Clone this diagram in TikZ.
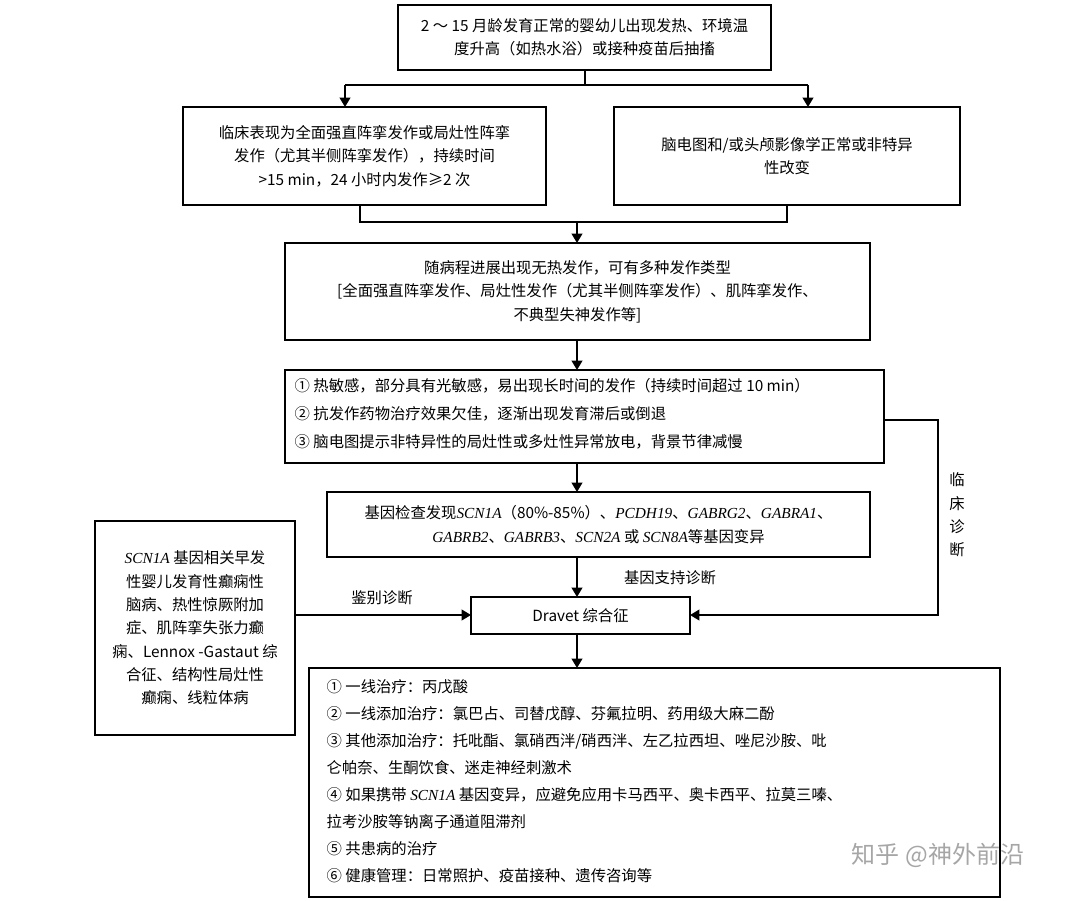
\documentclass[tikz,border=0pt]{standalone}
\usepackage{fontspec}
\setmainfont{Noto Sans CJK SC}
\newfontfamily\genefont{Liberation Serif}
\newcommand{\gene}[1]{{\genefont\itshape #1}}
\usetikzlibrary{arrows.meta}
\begin{document}
\begin{tikzpicture}[x=0.75pt,y=-0.75pt,
  box/.style={draw,line width=1.3pt},
  txt/.style={font=\fontsize{11.5}{17.5}\selectfont,align=center},
  ltxt/.style={font=\fontsize{11.5}{21}\selectfont,align=left,anchor=north west},
  arr/.style={line width=1.3pt,-{Triangle[length=7pt,width=8pt]}},
  ln/.style={line width=1.3pt}]
\useasboundingbox (0,0) rectangle (1080,900);
\draw[box] (398,5) rectangle (771,70) node[txt,midway] (n1) {2 ～ 15 月龄发育正常的婴幼儿出现发热、环境温\\度升高（如热水浴）或接种疫苗后抽搐};
\draw[box] (183,107) rectangle (546,205) node[txt,midway] (n2) {临床表现为全面强直阵挛发作或局灶性阵挛\\发作（尤其半侧阵挛发作），持续时间\\>15 min，24 小时内发作≥2 次};
\draw[box] (614,107) rectangle (960,205) node[txt,midway] (n3) {脑电图和/或头颅影像学正常或非特异\\性改变};
\draw[box] (285,243) rectangle (870,340) node[txt,midway] (n4) {随病程进展出现无热发作，可有多种发作类型\\{}[全面强直阵挛发作、局灶性发作（尤其半侧阵挛发作）、肌阵挛发作、\\不典型失神发作等]};
\draw[box] (285,370) rectangle (884,463);
\node[ltxt] (n5) at (290,374) {① 热敏感，部分具有光敏感，易出现长时间的发作（持续时间超过 10 min）\\② 抗发作药物治疗效果欠佳，逐渐出现发育滞后或倒退\\③ 脑电图提示非特异性的局灶性或多灶性异常放电，背景节律减慢};
\draw[box] (327,492) rectangle (870,557) node[txt,midway] (n6) {基因检查发现\gene{SCN1A}（80\%-85\%）、\gene{PCDH19}、\gene{GABRG2}、\gene{GABRA1}、\\\gene{GABRB2}、\gene{GABRB3}、\gene{SCN2A} 或 \gene{SCN8A}等基因变异};
\draw[box] (471,597) rectangle (690,634) node[txt,midway] (n7) {Dravet 综合征};
\draw[box] (95,521) rectangle (295,735) node[txt,midway] (n8) {\gene{SCN1A} 基因相关早发\\性婴儿发育性癫痫性\\脑病、热性惊厥附加\\症、肌阵挛失张力癫\\痫、Lennox -Gastaut 综\\合征、结构性局灶性\\癫痫、线粒体病};
\draw[box] (309,668) rectangle (1000,897);
\node[ltxt,font=\fontsize{11.5}{20.2}\selectfont] (n9) at (322,675) {① 一线治疗：丙戊酸\\② 一线添加治疗：氯巴占、司替戊醇、芬氟拉明、药用级大麻二酚\\③ 其他添加治疗：托吡酯、氯硝西泮/硝西泮、左乙拉西坦、唑尼沙胺、吡\\仑帕奈、生酮饮食、迷走神经刺激术\\④ 如果携带 \gene{SCN1A} 基因变异，应避免应用卡马西平、奥卡西平、拉莫三嗪、\\拉考沙胺等钠离子通道阻滞剂\\⑤ 共患病的治疗\\⑥ 健康管理：日常照护、疫苗接种、遗传咨询等};
\coordinate (s1) at (585,70); \coordinate (j1) at (585,85);
\coordinate (l1) at (345,85); \coordinate (r1) at (808,85);
\draw[ln] (s1) -- (j1); \draw[ln] (l1) -- (r1);
\coordinate (t2) at (345,107); \coordinate (t3) at (808,107);
\draw[arr] (l1) -- (t2); \draw[arr] (r1) -- (t3);
\coordinate (b2) at (360,205); \coordinate (b3) at (787,205);
\coordinate (b2j) at (360,222); \coordinate (b3j) at (787,222);
\coordinate (mj) at (577,222); \coordinate (t4) at (577,243);
\draw[ln] (b2) -- (b2j) -- (b3j) -- (b3);
\draw[arr] (mj) -- (t4);
\draw[arr] (577,340) -- (577,370);
\draw[arr] (577,463) -- (577,492);
\draw[arr] (577,557) -- (577,597);
\node[txt] (lab1) at (670,578) {基因支持诊断};
\draw[arr] (884,420) -- (938,420) -- (938,615) -- (690,615);
\node[txt,align=center] (lab2) at (957,515) {临\\床\\诊\\断};
\draw[arr] (295,615) -- (471,615);
\node[txt] (lab3) at (382,598) {鉴别诊断};
\draw[arr] (577,634) -- (577,668);
\node[font=\fontsize{18}{20}\selectfont,text=gray!70] (wm) at (938,855) {知乎 @神外前沿};
\end{tikzpicture}
\end{document}
